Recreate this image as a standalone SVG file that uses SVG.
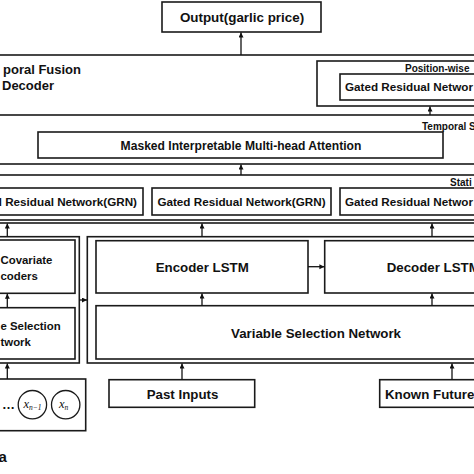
<svg xmlns="http://www.w3.org/2000/svg" width="474" height="474" viewBox="0 0 474 474">
<style>
.b{fill:none;stroke:#1a1a1a;stroke-width:1.6}
.c{fill:none;stroke:#1a1a1a;stroke-width:1.3}
.t{font-family:"Liberation Sans",Arial,sans-serif;font-weight:bold;fill:#111}
.m{font-size:13.3px}
.g{font-size:11.7px}
.s{font-size:10px}
.v{font-size:11.4px}
.x{font-family:"Liberation Serif","DejaVu Serif",serif;font-style:italic;fill:#111}
</style>
<defs>
<marker id="ah" markerUnits="userSpaceOnUse" markerWidth="6" markerHeight="6" refX="5" refY="2.5" orient="auto">
<path d="M0,0 L5,2.5 L0,5 z" fill="#111"/>
</marker>
</defs>
<rect width="474" height="474" fill="#fff"/>

<g id="output">
<rect class="b" x="162" y="2" width="159" height="30"/>
<text class="t" x="242" y="21.8" font-size="13.4" text-anchor="middle">Output(garlic price)</text>
</g>

<g id="tfd">
<rect class="b" x="-5" y="55" width="484" height="168"/>
<text class="t" x="3" y="74" font-size="13">poral Fusion</text>
<text class="t" x="2" y="90" font-size="13">Decoder</text>
</g>

<g id="positionwise">
<rect class="b" x="317" y="61" width="165" height="45"/>
<text class="t s" x="405" y="72">Position-wise</text>
<rect class="b" x="340" y="74" width="142" height="26"/>
<text class="t g" x="345" y="91">Gated Residual Networ</text>
</g>

<g id="temporal">
<rect class="b" x="-5" y="115" width="484" height="49"/>
<text class="t s" x="422" y="129.6">Temporal S</text>
</g>

<g id="attention">
<rect class="b" x="38" y="132" width="405" height="26"/>
<text class="t" x="241" y="150.3" font-size="12.1" text-anchor="middle">Masked Interpretable Multi-head Attention</text>
</g>

<g id="static">
<rect class="b" x="-5" y="175" width="484" height="45"/>
<text class="t s" x="450" y="185.6">Stati</text>
</g>

<g id="grn1">
<rect class="b" x="-5" y="188" width="148" height="27"/>
<text class="t g" x="137" y="206" text-anchor="end">d Residual Network(GRN)</text>
</g>
<g id="grn2">
<rect class="b" x="152" y="188" width="179" height="27"/>
<text class="t g" x="241.5" y="206" text-anchor="middle">Gated Residual Network(GRN)</text>
</g>
<g id="grn3">
<rect class="b" x="340" y="188" width="142" height="27"/>
<text class="t g" x="345" y="206">Gated Residual Networ</text>
</g>

<g id="covariate">
<rect class="b" x="-5" y="236.7" width="84.3" height="126.3"/>
<rect class="b" x="-5" y="240" width="80" height="53.3"/>
<text class="t v" x="0.5" y="263.5">Covariate</text>
<text class="t v" x="0.5" y="280">coders</text>
<rect class="b" x="-5" y="307.7" width="80" height="51.3"/>
<text class="t v" x="0.5" y="329.5">e Selection</text>
<text class="t v" x="0.5" y="345.5">twork</text>
</g>

<g id="main">
<rect class="b" x="87.3" y="236.7" width="395" height="126.3"/>
</g>
<g id="encoder">
<rect class="b" x="96" y="240.7" width="212" height="52.3"/>
<text class="t m" x="155.7" y="272">Encoder LSTM</text>
</g>
<g id="decoder">
<rect class="b" x="324.7" y="240.7" width="158" height="52.3"/>
<text class="t m" x="386.7" y="272">Decoder LSTM</text>
</g>
<g id="vsn">
<rect class="b" x="96" y="305.7" width="386" height="53.3"/>
<text class="t m" x="316" y="337.8" text-anchor="middle">Variable Selection Network</text>
</g>

<g id="staticinputs">
<rect class="b" x="-5" y="379" width="90.7" height="51.7"/>
<text class="t" x="2" y="409" font-size="13">…</text>
<circle class="c" cx="32.4" cy="404.7" r="14.2"/>
<text class="x" x="23.5" y="407.5" font-size="12.5">x<tspan font-size="7.5" dy="2">n−1</tspan></text>
<circle class="c" cx="65.7" cy="404.7" r="14.2"/>
<text class="x" x="59" y="407.5" font-size="12.5">x<tspan font-size="7.5" dy="2">n</tspan></text>
</g>

<g id="past">
<rect class="b" x="109" y="379.7" width="145.7" height="27.6"/>
<text class="t m" x="182.5" y="398.8" text-anchor="middle">Past Inputs</text>
</g>

<g id="future">
<rect class="b" x="379.7" y="379.7" width="102" height="27.6"/>
<text class="t m" x="385" y="398.8">Known Future</text>
</g>

<text class="t" x="-1.5" y="462" font-size="15">a</text>

<g id="connectors" stroke="#111" stroke-width="1.3" fill="none" marker-end="url(#ah)">
<line x1="241" y1="55" x2="241" y2="32.5"/>
<line x1="430" y1="115" x2="430" y2="106.5"/>
<line x1="241" y1="175" x2="241" y2="164.5"/>
<line x1="7.3" y1="236.7" x2="7.3" y2="223.5"/>
<line x1="202" y1="236.7" x2="202" y2="223.5"/>
<line x1="432" y1="236.7" x2="432" y2="223.5"/>
<line x1="7.3" y1="307.7" x2="7.3" y2="293.8"/>
<line x1="202" y1="305.7" x2="202" y2="293.5"/>
<line x1="432" y1="305.7" x2="432" y2="293.5"/>
<line x1="79.3" y1="300" x2="87" y2="300"/>
<line x1="308" y1="266.7" x2="324.4" y2="266.7"/>
<line x1="7.3" y1="379" x2="7.3" y2="363.5"/>
<line x1="182" y1="379.7" x2="182" y2="363.5"/>
<line x1="452" y1="379.7" x2="452" y2="363.5"/>
</g>
</svg>
